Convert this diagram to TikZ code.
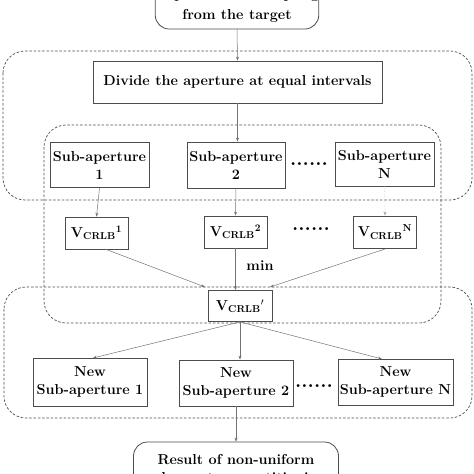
\documentclass[tikz,border=0pt]{standalone}
\usetikzlibrary{arrows.meta,calc}
\begin{document}
\begin{tikzpicture}[x=1pt,y=-1pt,
  every node/.style={font=\fontsize{14.4}{18}\selectfont\bfseries, inner sep=0pt, align=center},
  box/.style={draw=black!70, line width=0.8pt, fill=white},
  rbox/.style={box, rounded corners=14pt},
  frame/.style={draw=black!70, line width=0.7pt, dash pattern=on 2.5pt off 1.8pt, rounded corners=22pt},
  arr/.style={draw=black!55, line width=0.5pt, -{Stealth[length=4pt,width=3pt]}},
  darr/.style={draw=black!35, line width=0.5pt, dotted, -{Stealth[length=4pt,width=3pt]}},
  dots/.style={font=\fontsize{20}{20}\selectfont\bfseries}
]
\useasboundingbox (0,0) rectangle (474,474);
% frames
\draw[frame] (3,51) rectangle (472,200);
\draw[frame] (44,125) rectangle (441,323);
\draw[frame] (4,287) rectangle (472,418);
% nodes
\node[rbox, minimum width=158pt, minimum height=47pt, font=\fontsize{14.4}{21}\selectfont\bfseries] (top) at (237,5.5) {Experimental sampling\\from the target};
\node[box, minimum width=289pt, minimum height=42pt] (divide) at (237.5,82) {Divide the aperture at equal intervals};
\node[box, minimum width=99pt, minimum height=45pt] (s1) at (99.5,165) {Sub-aperture\\1};
\node[box, minimum width=98pt, minimum height=46pt] (s2) at (236,165) {Sub-aperture\\2};
\node[box, minimum width=99pt, minimum height=44pt] (sN) at (384.5,164) {Sub-aperture\\N};
\node[dots] (d1) at (309,164) {......};
\node[box, minimum width=63pt, minimum height=32pt] (v1) at (96.5,233) {V\textsubscript{CRLB}\textsuperscript{1}};
\node[box, minimum width=63pt, minimum height=32pt] (v2) at (235.5,232) {V\textsubscript{CRLB}\textsuperscript{2}};
\node[box, minimum width=63pt, minimum height=32pt] (vN) at (385,232) {V\textsubscript{CRLB}\textsuperscript{N}};
\node[dots] (d2) at (311,229) {......};
\node (min) at (260,266) {min};
\node[box, minimum width=64pt, minimum height=31pt] (vp) at (240,306) {V\textsubscript{CRLB}\textsuperscript{$\prime$}};
\node[box, minimum width=114pt, minimum height=48pt] (n1) at (90,382) {New\\Sub-aperture 1};
\node[box, minimum width=114pt, minimum height=46pt] (n2) at (236,383) {New\\Sub-aperture 2};
\node[box, minimum width=115pt, minimum height=46pt] (nN) at (395.5,382) {New\\Sub-aperture N};
\node[dots] (d3) at (314,386) {......};
\node[rbox, minimum width=205pt, minimum height=56pt] (res) at (236,470) {Result of non-uniform\\sub-aperture partitioning};
% helper coordinates
\coordinate (v1s) at (105,249);
\coordinate (vNs) at (385,249);
\coordinate (vpL) at (205,287);
\coordinate (vpR) at (270,287);
\coordinate (n1t) at (93,358);
\coordinate (nNt) at (382,359);
% connectors
\draw[arr] (top.south) -- (divide.north);
\draw[arr] (divide.south) -- (divide.south |- s2.north);
\draw[arr] (s1.south) -- (v1.north);
\draw[arr] (s2.south) -- (v2.north);
\draw[darr] (sN.south) -- (vN.north);
\draw[arr] (v1s) -- (vpL);
\draw[arr] (v2.south) -- (v2.south |- vp.north);
\draw[arr] (vNs) -- (vpR);
\draw[arr] (vp.south) -- (n1t);
\draw[arr] (vp.south) -- (vp.south |- n2.north);
\draw[arr] (vp.south) -- (nNt);
\draw[arr] (n2.south) -- (res.north);
\end{tikzpicture}
\end{document}
